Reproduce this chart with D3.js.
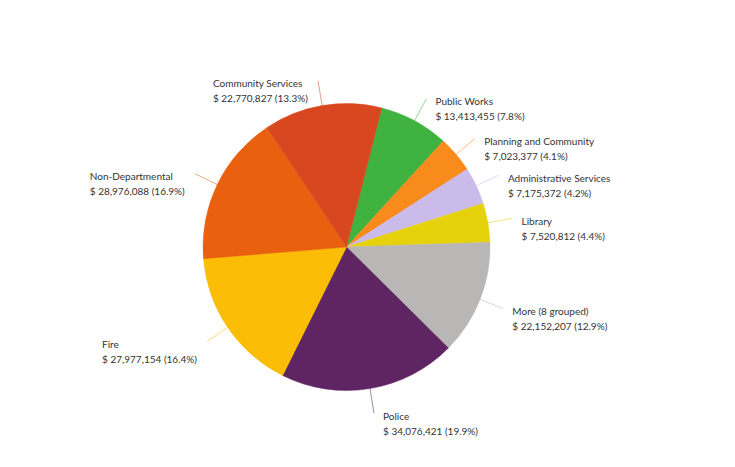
<!DOCTYPE html>
<html>
<head>
<meta charset="utf-8">
<script src="https://cdn.jsdelivr.net/npm/d3@7"></script>
<style>
  body { margin: 0; background: #fff; }
  text { font-family: Lato, "Open Sans", sans-serif; fill: #333; }
</style>
</head>
<body>
<div id="chart"></div>
<script>
var width = 735;
var height = 467;

// slices, clockwise from the first one after 12 o'clock
var categories = ["Public Works", "Planning and Community", "Administrative Services", "Library",
    "More (8 grouped)", "Police", "Fire", "Non-Departmental", "Community Services"];
var values = [13413455, 7023377, 7175372, 7520812, 22152207, 34076421, 27977154, 28976088, 22770827];
var colors = ["#3fb23f", "#f98a1c", "#cbbbea", "#e6d20a", "#b9b7b5", "#5f2462", "#fbbd05", "#e9600e", "#d8471f"];

var cx = 346.5, cy = 247, radius = 143.5;
var startAngle = 14.2 * Math.PI / 180;
var leader = 25;

var svg = d3.select("#chart").append("svg")
    .attr("width", width)
    .attr("height", height);

var g = svg.append("g")
    .attr("transform", "translate(" + cx + "," + cy + ")");

var total = d3.sum(values);
var fmtMoney = d3.format(",");
var fmtPct = d3.format(".1%");

var pie = d3.pie()
    .sort(null)
    .value(function (d) { return d.value; })
    .startAngle(startAngle)
    .endAngle(startAngle + 2 * Math.PI);

var data = categories.map(function (c, i) {
    return { name: c, value: values[i], color: colors[i] };
});

var arcs = pie(data);

var arc = d3.arc()
    .innerRadius(0)
    .outerRadius(radius);

g.selectAll("path.slice")
    .data(arcs)
    .enter()
    .append("path")
    .attr("class", "slice")
    .attr("d", arc)
    .attr("fill", function (d) { return d.data.color; })
    .attr("stroke", function (d) { return d.data.color; })
    .attr("stroke-width", 0.5);

function pt(a, r) {
    return [r * Math.sin(a), -r * Math.cos(a)];
}

// connectors
g.selectAll("line.connector")
    .data(arcs)
    .enter()
    .append("line")
    .attr("class", "connector")
    .attr("x1", function (d) { return pt((d.startAngle + d.endAngle) / 2, radius)[0]; })
    .attr("y1", function (d) { return pt((d.startAngle + d.endAngle) / 2, radius)[1]; })
    .attr("x2", function (d) { return pt((d.startAngle + d.endAngle) / 2, radius + leader)[0]; })
    .attr("y2", function (d) { return pt((d.startAngle + d.endAngle) / 2, radius + leader)[1]; })
    .attr("stroke", function (d) { return d.data.color; })
    .attr("stroke-opacity", 0.55)
    .attr("stroke-width", 1);

// labels
var labels = g.selectAll("g.label")
    .data(arcs)
    .enter()
    .append("g")
    .attr("class", "label");

labels.append("text")
    .attr("class", "l1")
    .attr("font-size", "10px")
    .attr("dy", "0.35em")
    .text(function (d) { return d.data.name; });

labels.append("text")
    .attr("class", "l2")
    .attr("font-size", "10px")
    .attr("y", 15)
    .attr("dy", "0.35em")
    .text(function (d) { return "$ " + fmtMoney(d.data.value) + " (" + fmtPct(d.data.value / total) + ")"; });

labels.each(function (d) {
    var a = (d.startAngle + d.endAngle) / 2;
    var p = pt(a, radius + leader);
    var right = Math.sin(a) > 0;
    var w = d3.max(d3.select(this).selectAll("text").nodes(), function (n) { return n.getComputedTextLength(); });
    var x = right ? p[0] + 9 : p[0] - 10 - w;
    d3.select(this).attr("transform", "translate(" + x + "," + (p[1] + 3) + ")");
});
</script>
</body>
</html>
